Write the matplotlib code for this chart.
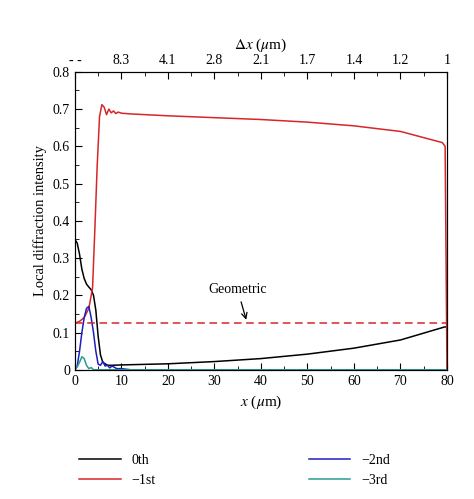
import numpy as np
import matplotlib.pyplot as plt

plt.rcParams['font.family'] = ['Liberation Serif', 'DejaVu Serif']
plt.rcParams['mathtext.fontset'] = 'stix'

# ========== data ==========
x_0th = [0, 0.5, 1, 1.5, 2, 2.5, 3, 3.5, 4, 4.5, 5, 5.5, 6, 7, 8, 10, 20, 30, 40, 50, 60, 70, 79.5, 80]
y_0th = [0.35, 0.34, 0.31, 0.27, 0.245, 0.23, 0.222, 0.215, 0.2, 0.16, 0.09, 0.04, 0.02, 0.012, 0.012, 0.013, 0.016, 0.022, 0.03, 0.042, 0.058, 0.08, 0.115, 0.115]

x_1st = [0, 1, 2, 3, 3.8, 4.3, 4.8, 5.3, 5.8, 6.3, 6.8, 7.3, 7.8, 8.3, 8.8, 9.3, 10, 12, 20, 30, 40, 50, 60, 70, 79, 79.6, 80]
y_1st = [0.125, 0.13, 0.14, 0.165, 0.22, 0.38, 0.55, 0.68, 0.712, 0.705, 0.685, 0.7, 0.69, 0.695, 0.688, 0.692, 0.689, 0.687, 0.682, 0.677, 0.672, 0.665, 0.655, 0.64, 0.61, 0.6, 0.0]

x_2nd = [0, 0.5, 1, 1.5, 2, 2.5, 3, 3.5, 4, 4.5, 5, 5.5, 6, 6.5, 7, 7.5, 8, 9, 10, 12, 80]
y_2nd = [0.0, 0.01, 0.05, 0.1, 0.14, 0.165, 0.17, 0.14, 0.1, 0.05, 0.015, 0.012, 0.022, 0.01, 0.012, 0.005, 0.01, 0.003, 0.003, 0.0, 0.0]

x_3rd = [0, 0.5, 1, 1.5, 2, 2.5, 3, 3.5, 4, 5, 80]
y_3rd = [0.0, 0.008, 0.02, 0.035, 0.03, 0.012, 0.003, 0.006, 0.0, 0.0, 0.0]

geometric = 0.125

top_pos = [0, 10, 20, 30, 40, 50, 60, 70, 80]
top_labels = ['- -', '8.3', '4.1', '2.8', '2.1', '1.7', '1.4', '1.2', '1']

# ========== plot ==========
fig = plt.figure(figsize=(4.74, 4.99), dpi=100)
ax = fig.add_axes([0.158, 0.259, 0.785, 0.597])

ax.plot(x_0th, y_0th, color='black', lw=1.1, label='0th')
ax.plot(x_1st, y_1st, color='#d62728', lw=1.1, label='\u22121st')
ax.plot(x_2nd, y_2nd, color='#1f1fbf', lw=1.1, label='\u22122nd')
ax.plot(x_3rd, y_3rd, color='#2a9d8f', lw=1.1, label='\u22123rd')
ax.plot([0, 80], [geometric, geometric], color='#d62728', lw=1.1, ls=(0, (5, 3)))

ax.annotate('Geometric', xy=(37, 0.127), xytext=(35, 0.205), fontsize=10,
            ha='center', arrowprops=dict(arrowstyle='->', color='black', lw=0.9))

ax.set_xlim(0, 80)
ax.set_ylim(0, 0.8)
ax.set_xticks(np.arange(0, 81, 10))
ax.set_xticks(np.arange(0, 81, 5), minor=True)
ax.set_yticks(np.arange(0, 0.81, 0.1))
ax.set_yticks(np.arange(0, 0.81, 0.05), minor=True)
ax.set_yticklabels(['0', '0.1', '0.2', '0.3', '0.4', '0.5', '0.6', '0.7', '0.8'])
ax.tick_params(which='both', direction='in', labelsize=10)
ax.tick_params(which='major', length=5)
ax.tick_params(which='minor', length=3)
ax.set_xlabel('$x$ ($\\mu$m)', fontsize=11)
ax.set_ylabel('Local diffraction intensity', fontsize=10.5)

ax2 = ax.twiny()
ax2.set_xlim(0, 80)
ax2.set_xticks(top_pos)
ax2.set_xticklabels(top_labels)
ax2.set_xticks(np.arange(0, 81, 5), minor=True)
ax2.tick_params(which='both', direction='in', labelsize=10)
ax2.tick_params(which='major', length=5)
ax2.tick_params(which='minor', length=3)
ax2.set_xlabel('$\\Delta x$ ($\\mu$m)', fontsize=11)

fig.legend(loc='lower left', bbox_to_anchor=(0.14, 0.0), ncol=2, frameon=False,
           fontsize=10, columnspacing=11, handlelength=3.0)

fig.savefig('out.png', dpi=100)
